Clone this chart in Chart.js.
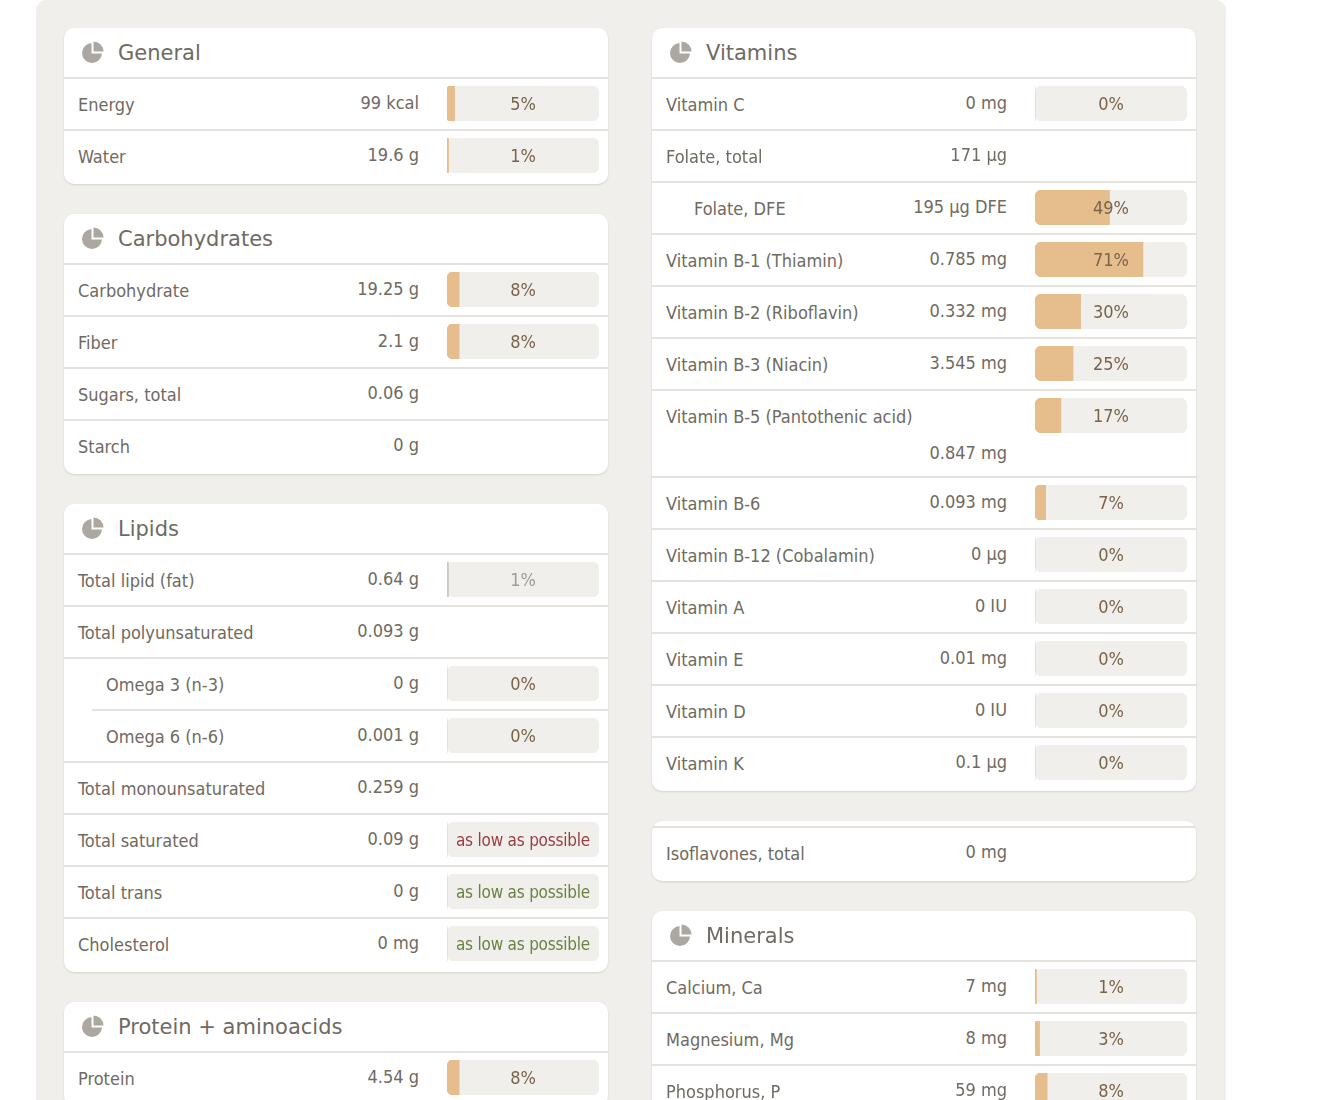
<!DOCTYPE html>
<html>
<head>
<meta charset="utf-8">
<title>Nutrition</title>
<script src="https://cdn.jsdelivr.net/npm/chart.js@4"></script>
<style>
html, body { margin: 0; height: 1100px; overflow: hidden; background: #fff; }
body { font-family: "DejaVu Sans Condensed", "DejaVu Sans", sans-serif; font-stretch: condensed; color: #6f6a62; }
#panel { position: absolute; left: 36px; top: 0; width: 1190px; height: 1100px; background: #f0efeb; border-radius: 10px 10px 0 0; }
.col { position: absolute; top: 28px; width: 544px; }
#left { left: 28px; }
#right { left: 616px; }
.card { background: #fff; border-radius: 10px; box-shadow: 0 1px 2px rgba(90, 80, 70, .18); margin-bottom: 30px; padding-bottom: 3px; }
.head { height: 49px; position: relative; font: 21px "DejaVu Sans", sans-serif; font-stretch: normal; }
.head svg { position: absolute; left: 17px; top: 12px; }
.head span { position: absolute; left: 54px; top: 13px; }
.nohead { height: 5px; }
.row { position: relative; height: 50px; border-top: 2px solid #e5e1dc; font-size: 18px; }
.row.tall { height: 85px; }
.row.subline { border-top-color: transparent; }
.row.subline::before { content: ""; position: absolute; left: 28px; right: 0; top: -2px; height: 2px; background: #e5e1dc; }
.label { position: absolute; left: 14px; top: 15px; white-space: nowrap; }
.sub .label { left: 42px; }
.amount { position: absolute; right: 189px; top: 13px; white-space: nowrap; }
.tall .amount { top: 51px; }
.bar { position: absolute; left: 383px; top: 7px; width: 152px; height: 35px; }
.bar canvas { position: absolute; left: 0; top: 0; }
.pct { position: absolute; left: 0; right: 0; top: 7px; text-align: center; color: #7a6448; white-space: nowrap; }
.pct.muted { color: #a09b94; }
.pct.high, .pct.low { font-size: 17px; letter-spacing: -0.22px; top: 8px; }
.pct.high { color: #993f3f; }
.pct.low { color: #6b8245; }
</style>
</head>
<body>
<div id="panel">
  <div class="col" id="left"></div>
  <div class="col" id="right"></div>
</div>
<script>
const generalNames = ['Energy', 'Water'];
const generalAmounts = ['99 kcal', '19.6 g'];
const generalPercents = [5, 1];

const carbNames = ['Carbohydrate', 'Fiber', 'Sugars, total', 'Starch'];
const carbAmounts = ['19.25 g', '2.1 g', '0.06 g', '0 g'];
const carbPercents = [8, 8, null, null];

const lipidNames = ['Total lipid (fat)', 'Total polyunsaturated', 'Omega 3 (n-3)', 'Omega 6 (n-6)',
    'Total monounsaturated', 'Total saturated', 'Total trans', 'Cholesterol'];
const lipidAmounts = ['0.64 g', '0.093 g', '0 g', '0.001 g', '0.259 g', '0.09 g', '0 g', '0 mg'];
const lipidPercents = [1, null, 0, 0, null, 0, 0, 0];

const proteinNames = ['Protein'];
const proteinAmounts = ['4.54 g'];
const proteinPercents = [8];

const vitaminNames = ['Vitamin C', 'Folate, total', 'Folate, DFE', 'Vitamin B-1 (Thiamin)', 'Vitamin B-2 (Riboflavin)',
    'Vitamin B-3 (Niacin)', 'Vitamin B-5 (Pantothenic acid)', 'Vitamin B-6', 'Vitamin B-12 (Cobalamin)',
    'Vitamin A', 'Vitamin E', 'Vitamin D', 'Vitamin K'];
const vitaminAmounts = ['0 mg', '171 µg', '195 µg DFE', '0.785 mg', '0.332 mg', '3.545 mg', '0.847 mg',
    '0.093 mg', '0 µg', '0 IU', '0.01 mg', '0 IU', '0.1 µg'];
const vitaminPercents = [0, null, 49, 71, 30, 25, 17, 7, 0, 0, 0, 0, 0];

const otherNames = ['Isoflavones, total'];
const otherAmounts = ['0 mg'];
const otherPercents = [null];

const mineralNames = ['Calcium, Ca', 'Magnesium, Mg', 'Phosphorus, P'];
const mineralAmounts = ['7 mg', '8 mg', '59 mg'];
const mineralPercents = [1, 3, 8];

// rows that need special treatment
const subRows = ['Folate, DFE', 'Omega 3 (n-3)', 'Omega 6 (n-6)'];
const noteHigh = ['Total saturated'];
const noteLow = ['Total trans', 'Cholesterol'];
const mutedRows = ['Total lipid (fat)'];
const tallRows = ['Vitamin B-5 (Pantothenic acid)'];
const noteText = 'as low as possible';

const pieIcon = `<svg width="24" height="24" viewBox="0 0 24 24">
    <path d="M10.5 3 A10 10 0 1 0 21 13.5 H10.5 Z" fill="#aca7a1"/>
    <path d="M12.5 1.5 A10 10 0 0 1 22.5 11.5 H12.5 Z" fill="#aca7a1"/></svg>`;

function drawBar(canvas, name, percent) {
    new Chart(canvas.getContext('2d'), {
        type: 'bar',
        data: {
            labels: [name],
            datasets: [{
                data: [percent],
                backgroundColor: mutedRows.includes(name) ? '#cbc8c2' : '#e6bd8c',
                borderRadius: { topLeft: 7, bottomLeft: 7, topRight: 0, bottomRight: 0 },
                borderSkipped: false,
                grouped: false,
                order: 1
            }, {
                data: [100],
                backgroundColor: '#f0efeb',
                borderRadius: 7,
                borderSkipped: false,
                grouped: false,
                order: 2
            }]
        },
        options: {
            indexAxis: 'y',
            responsive: false,
            animation: false,
            events: [],
            barPercentage: 1,
            categoryPercentage: 1,
            layout: { padding: 0 },
            plugins: { legend: { display: false }, tooltip: { enabled: false } },
            scales: {
                x: { display: false, min: 0, max: 100 },
                y: { display: false }
            }
        }
    });
}

function addRow(card, name, amount, percent) {
    const row = document.createElement('div');
    row.className = 'row';
    if (subRows.includes(name)) row.classList.add('sub');
    if (tallRows.includes(name)) row.classList.add('tall');
    if (name === 'Omega 6 (n-6)') row.classList.add('subline');
    row.innerHTML = `<div class="label">${name}</div><div class="amount">${amount}</div>`;
    if (percent !== null) {
        const isHigh = noteHigh.includes(name), isLow = noteLow.includes(name);
        const text = isHigh || isLow ? noteText : percent + '%';
        const tone = isHigh ? 'high' : isLow ? 'low' : mutedRows.includes(name) ? 'muted' : '';
        const bar = document.createElement('div');
        bar.className = 'bar';
        bar.innerHTML = `<canvas width="152" height="35"></canvas><div class="pct ${tone}">${text}</div>`;
        row.appendChild(bar);
        card.appendChild(row);
        drawBar(bar.querySelector('canvas'), name, percent);
    } else {
        card.appendChild(row);
    }
}

function addCard(colId, title, names, amounts, percents) {
    const card = document.createElement('div');
    card.className = 'card';
    card.innerHTML = title
        ? `<div class="head">${pieIcon}<span>${title}</span></div>`
        : '<div class="nohead"></div>';
    document.getElementById(colId).appendChild(card);
    names.forEach((name, i) => addRow(card, name, amounts[i], percents[i]));
}

addCard('left', 'General', generalNames, generalAmounts, generalPercents);
addCard('left', 'Carbohydrates', carbNames, carbAmounts, carbPercents);
addCard('left', 'Lipids', lipidNames, lipidAmounts, lipidPercents);
addCard('left', 'Protein + aminoacids', proteinNames, proteinAmounts, proteinPercents);

addCard('right', 'Vitamins', vitaminNames, vitaminAmounts, vitaminPercents);
addCard('right', '', otherNames, otherAmounts, otherPercents);
addCard('right', 'Minerals', mineralNames, mineralAmounts, mineralPercents);
</script>
</body>
</html>
